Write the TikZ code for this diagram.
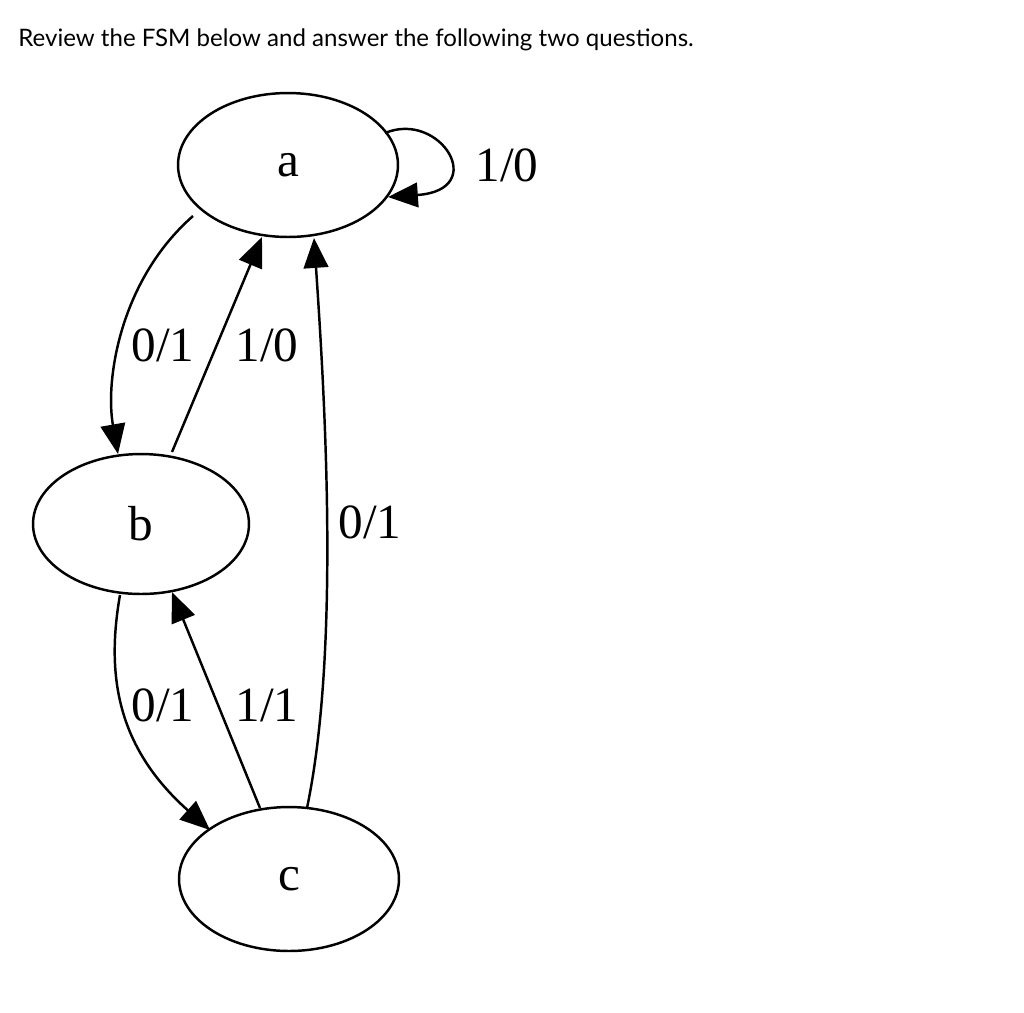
\documentclass[tikz,border=0pt]{standalone}
\usepackage{fontspec}
\setmainfont{Liberation Serif}
\newfontfamily\lato{Lato}
\usetikzlibrary{arrows.meta,shapes.geometric}
\begin{document}
\begin{tikzpicture}[x=0.02cm,y=-0.02cm,
  st/.style={ellipse,draw,line width=1.4pt,inner sep=0pt,minimum width=4.4cm,minimum height=2.88cm,font=\fontsize{28}{30}\selectfont},
  lab/.style={font=\fontsize{28}{30}\selectfont,inner sep=0pt},
  ed/.style={line width=1.4pt,-{Triangle[length=17pt,width=14pt]}}]
\useasboundingbox (0,0) rectangle (1024,1012);
\node[anchor=west,font=\lato\fontsize{13.7}{15}\selectfont,inner sep=0pt] (t) at (18,40) {Review the FSM below and answer the following two questions.};
\node[st] (a) at (288,165) {a};
\node[st,minimum width=4.32cm,minimum height=2.8cm] (b) at (141,524) {b};
\node[st] (c) at (289,879) {c};
\coordinate (a1) at (193,216);
\coordinate (b1) at (118,454);
\coordinate (b2) at (172,452);
\coordinate (a2) at (262,237);
\coordinate (a3) at (385,133);
\coordinate (a4) at (388,197);
\coordinate (c1) at (307,808);
\coordinate (a5) at (314,238);
\coordinate (b3) at (120,595);
\coordinate (c2) at (210,830);
\coordinate (c3) at (260,808);
\coordinate (b4) at (172,592);
\draw[ed] (a1) .. controls (120,280) and (105,380) .. (b1);
\draw[ed] (b2) -- (a2);
\draw[ed] (a3) .. controls (440,110) and (490,190) .. (a4);
\draw[ed] (c1) .. controls (340,650) and (325,400) .. (a5);
\draw[ed] (b3) .. controls (105,680) and (120,750) .. (c2);
\draw[ed] (c3) -- (b4);
\node[lab] (l1) at (163,345) {0/1};
\node[lab] (l2) at (267,345) {1/0};
\node[lab] (l3) at (370,522) {0/1};
\node[lab] (l4) at (507,165) {1/0};
\node[lab] (l5) at (163,705) {0/1};
\node[lab] (l6) at (267,705) {1/1};
\end{tikzpicture}
\end{document}
